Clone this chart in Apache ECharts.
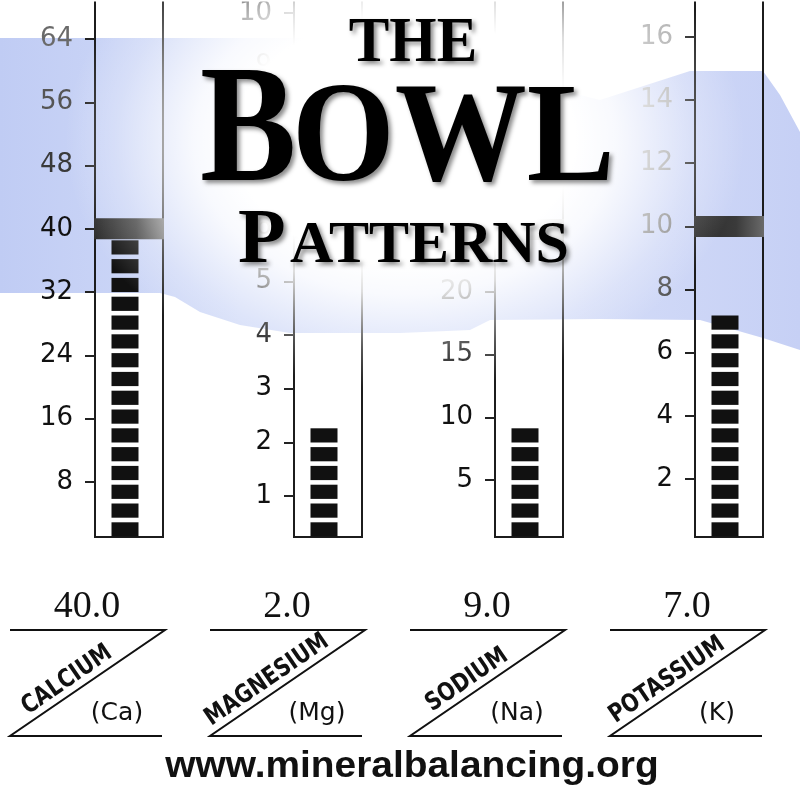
<!DOCTYPE html>
<html><head><meta charset="utf-8">
<script src="https://cdn.jsdelivr.net/npm/echarts@6/dist/echarts.min.js"></script>
<style>html,body{margin:0;padding:0;background:#fff}#c{width:800px;height:800px}</style>
</head><body><div id="c"></div>
<script>
// ---- data ----
const mineralNames = ['CALCIUM', 'MAGNESIUM', 'SODIUM', 'POTASSIUM'];
const mineralSymbols = ['(Ca)', '(Mg)', '(Na)', '(K)'];
const levels = [40.0, 2.0, 9.0, 7.0];
const idealLevels = [40, 6, 25, 10];
const caTicks = [8, 16, 24, 32, 40, 48, 56, 64];
const mgTicks = [1, 2, 3, 4, 5, 6, 7, 8, 9, 10];
const naTicks = [5, 10, 15, 20, 25, 30, 35, 40];
const kTicks = [2, 4, 6, 8, 10, 12, 14, 16];
const axisMin = [1.05, 0.237, 0.455, 0.162];
const axisMax = [68.93, 10.24, 43.31, 17.17];
const tickSets = [caTicks, mgTicks, naTicks, kTicks];

// ---- style constants ----
const tubeLeft = [95, 294, 495, 695];
const TUBE_W = 68;
const PITCH = 18.8, SEG_H = 14.2, SEG_W = 27, SEG_SHIFT = -4;
const labelFade = [
  {64: '#6a6a6a', 56: '#555', 48: '#3a3a3a'},
  {},
  {},
  {16: '#aaa', 14: '#aaa', 12: '#999', 10: '#888', 8: '#555'}
];

function segRender(params, api) {
  const cs = params.coordSys;
  const bottom = cs.y + cs.height;
  const zeroPx = api.coord([0, 0])[1];
  const topPx = api.coord([0, api.value(1)])[1];
  const n = Math.round((zeroPx - topPx) / PITCH);
  const cx = api.coord([0, 0])[0] + SEG_SHIFT;
  const children = [];
  for (let k = 0; k < n; k++) {
    const yb = bottom - 0.5 - k * PITCH;
    children.push({type: 'rect', shape: {x: cx - SEG_W / 2, y: yb - SEG_H, width: SEG_W, height: SEG_H},
      style: {fill: '#111'}});
  }
  return {type: 'group', children};
}
function markerRender(params, api) {
  const cs = params.coordSys;
  const y = api.coord([0, api.value(1)])[1];
  return {type: 'rect', shape: {x: cs.x - 1, y: y - 10.5, width: cs.width + 2, height: 21},
    style: {fill: {type: 'linear', x: 0, y: 0, x2: 1, y2: 0, colorStops: [
      {offset: 0, color: '#2c2c2c'}, {offset: 0.6, color: '#3a3a3a'}, {offset: 1, color: '#6a6a6a'}]}}};
}

const grid = [], xAxis = [], yAxis = [], series = [];
for (let i = 0; i < 4; i++) {
  grid.push({left: tubeLeft[i], width: TUBE_W, top: 0, bottom: 263, show: true,
    backgroundColor: 'transparent', borderColor: '#1c1c1c', borderWidth: 2});
  xAxis.push({gridIndex: i, type: 'category', data: [mineralSymbols[i]], show: false});
  const fade = labelFade[i];
  yAxis.push({gridIndex: i, type: 'value', min: axisMin[i], max: axisMax[i],
    axisLine: {show: false}, splitLine: {show: false},
    axisTick: {show: true, length: 10, customValues: tickSets[i], lineStyle: {color: '#222', width: 2}},
    axisLabel: {customValues: tickSets[i], margin: 22, fontFamily: 'DejaVu Sans', fontSize: 26,
      color: function (v) { return fade[Number(v)] || '#111'; }}});
  series.push({type: 'custom', xAxisIndex: i, yAxisIndex: i, data: [[0, levels[i]]],
    encode: {x: 0, y: 1}, renderItem: segRender, z: 2, silent: true});
  series.push({type: 'custom', xAxisIndex: i, yAxisIndex: i, data: [[0, idealLevels[i]]],
    encode: {x: 0, y: 1}, renderItem: markerRender, z: 3, silent: true});
}

// ---- decorations ----
const graphics = [];
graphics.push({type: 'polygon', z: -1, silent: true,
  shape: {points: [[0, 38], [300, 38], [480, 70], [600, 100], [690, 71], [763, 71], [780, 95], [800, 132],
    [800, 350], [763, 338], [700, 320], [600, 319], [490, 320], [470, 330], [400, 333], [290, 333],
    [240, 325], [200, 312], [175, 297], [160, 293], [0, 293]]},
  style: {fill: {type: 'linear', x: 0, y: 0, x2: 1, y2: 0, colorStops: [
    {offset: 0, color: '#c0ccf4'}, {offset: 0.3, color: '#d3dcf8'}, {offset: 0.7, color: '#d5ddf8'},
    {offset: 1, color: '#c6d0f5'}]}}});
// hide the grid's top border line at the page edge
graphics.push({type: 'rect', z: 5, silent: true, shape: {x: 0, y: 0, width: 800, height: 1.5},
  style: {fill: '#fff'}});
// white veil behind title
graphics.push({type: 'rect', z: 10, silent: true, x: 405, y: 140, scaleY: 250 / 340,
  shape: {x: -340, y: -340, width: 680, height: 680},
  style: {fill: {type: 'radial', x: 0.5, y: 0.5, r: 0.5, colorStops: [
    {offset: 0, color: 'rgba(255,255,255,1)'}, {offset: 0.5, color: 'rgba(255,255,255,1)'},
    {offset: 0.62, color: 'rgba(255,255,255,0.85)'}, {offset: 0.75, color: 'rgba(255,255,255,0.5)'},
    {offset: 0.85, color: 'rgba(255,255,255,0.25)'}, {offset: 1, color: 'rgba(255,255,255,0)'}]}}});

function titleText(t, x, baseline, fs, sx, align) {
  return {type: 'text', z: 20, silent: true, x: x, y: baseline - 0.27 * fs, scaleX: sx,
    style: {text: t, fontFamily: '"Liberation Serif"', fontWeight: 'bold', fontSize: fs, fill: '#000',
      align: align || 'left', verticalAlign: 'middle',
      textShadowColor: 'rgba(0,0,0,0.45)', textShadowBlur: 4, textShadowOffsetX: 3, textShadowOffsetY: 3}};
}
graphics.push(titleText('THE', 413, 62, 64, 0.95, 'center'));
graphics.push(titleText('B', 200, 182, 168, 0.86));
graphics.push(titleText('OWL', 292, 182, 142, 0.93));
graphics.push(titleText('P', 238, 263, 78, 1));
graphics.push(titleText('ATTERNS', 290, 263, 60, 1));

for (let i = 0; i < 4; i++) {
  const L = 10 + 200 * i;
  graphics.push({type: 'text', silent: true, x: L + 77, y: 607,
    style: {text: levels[i].toFixed(1), fontFamily: '"Liberation Serif"', fontSize: 38, fill: '#111',
      align: 'center', verticalAlign: 'middle'}});
  graphics.push({type: 'polyline', silent: true,
    shape: {points: [[L, 630], [L + 155, 630], [L, 736], [L + 152, 736]]},
    style: {stroke: '#111', lineWidth: 2, fill: null}});
  graphics.push({type: 'text', silent: true, x: L + 57, y: 680, rotation: 0.6, scaleX: 0.82,
    style: {text: mineralNames[i], fontFamily: '"DejaVu Sans"', fontWeight: 'bold', fontSize: 25,
      fill: '#111', align: 'center', verticalAlign: 'middle'}});
  graphics.push({type: 'text', silent: true, x: L + 107, y: 713,
    style: {text: mineralSymbols[i], fontFamily: '"DejaVu Sans"', fontSize: 25, fill: '#111',
      align: 'center', verticalAlign: 'middle'}});
}
graphics.push({type: 'text', silent: true, x: 412, y: 767, scaleX: 1.08,
  style: {text: 'www.mineralbalancing.org', fontFamily: '"Liberation Sans"', fontWeight: 'bold',
    fontSize: 36, fill: '#111', align: 'center', verticalAlign: 'middle'}});

const chart = echarts.init(document.getElementById('c'), null, {renderer: 'canvas'});
chart.setOption({
  backgroundColor: '#fff',
  animation: false,
  grid, xAxis, yAxis, series,
  graphic: {elements: graphics}
});
</script></body></html>
